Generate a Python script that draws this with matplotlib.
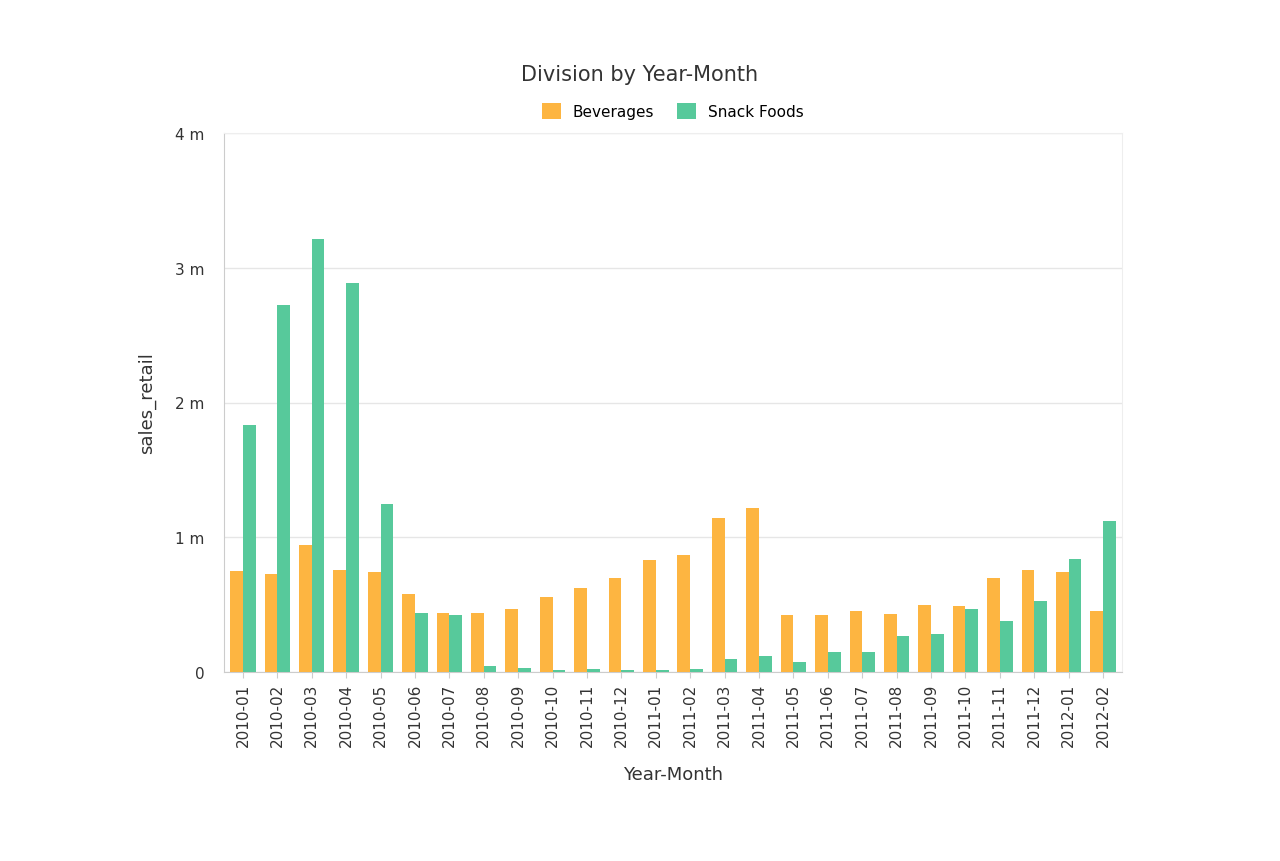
import matplotlib
matplotlib.use("Agg")
import matplotlib.pyplot as plt
import numpy as np

months = ["2010-01","2010-02","2010-03","2010-04","2010-05","2010-06","2010-07","2010-08","2010-09","2010-10","2010-11","2010-12",
          "2011-01","2011-02","2011-03","2011-04","2011-05","2011-06","2011-07","2011-08","2011-09","2011-10","2011-11","2011-12",
          "2012-01","2012-02"]
beverages = [0.75,0.73,0.94,0.76,0.74,0.58,0.44,0.44,0.47,0.56,0.62,0.70,
             0.83,0.87,1.14,1.22,0.42,0.42,0.45,0.43,0.50,0.49,0.70,0.76,0.74,0.45]
snacks = [1.83,2.72,3.21,2.89,1.25,0.44,0.42,0.045,0.03,0.015,0.025,0.012,
          0.012,0.025,0.095,0.12,0.075,0.15,0.15,0.27,0.28,0.47,0.38,0.53,0.84,1.12]
yticks = [0,1,2,3,4]
ylabels = ["0","1 m","2 m","3 m","4 m"]

plt.rcParams['font.family'] = ['DejaVu Sans']
fig = plt.figure(figsize=(12.8,8.62), dpi=100)
ax = fig.add_axes([224/1280, 1-673/862, (1122-224)/1280, (673-134)/862])
x = np.arange(len(months))
w = 0.37
ax.bar(x-w/2, beverages, w, color="#FDB541", label="Beverages", zorder=3)
ax.bar(x+w/2, snacks, w, color="#57C99B", label="Snack Foods", zorder=3)
ax.set_xlim(-0.55, len(months)-0.45)
ax.set_ylim(0,4)
ax.set_yticks(yticks)
ax.set_yticklabels(ylabels, fontsize=11, color="#333333")
ax.set_xticks(x)
ax.set_xticklabels(months, rotation=90, fontsize=11, color="#333333")
ax.grid(axis='y', color="#e6e6e6", lw=1, zorder=0)
for s in ['top','right']:
    ax.spines[s].set_color("#eeeeee")
for s in ['left','bottom']:
    ax.spines[s].set_color("#cccccc")
ax.tick_params(axis='y', length=0, pad=14)
ax.tick_params(axis='x', length=4, color="#cccccc")
ax.set_ylabel("sales_retail", fontsize=13, color="#333333", labelpad=14)
ax.set_xlabel("Year-Month", fontsize=13, color="#333333", labelpad=14)
fig.text(0.5, 1-75/862, "Division by Year-Month", ha='center', va='center', fontsize=15, color="#333333")
ax.legend(loc='lower center', bbox_to_anchor=(0.5, 1.0), ncol=2, frameon=False, fontsize=11,
          handlelength=1.2, handleheight=1.2, columnspacing=1.5)
fig.savefig("out.png", dpi=100)
